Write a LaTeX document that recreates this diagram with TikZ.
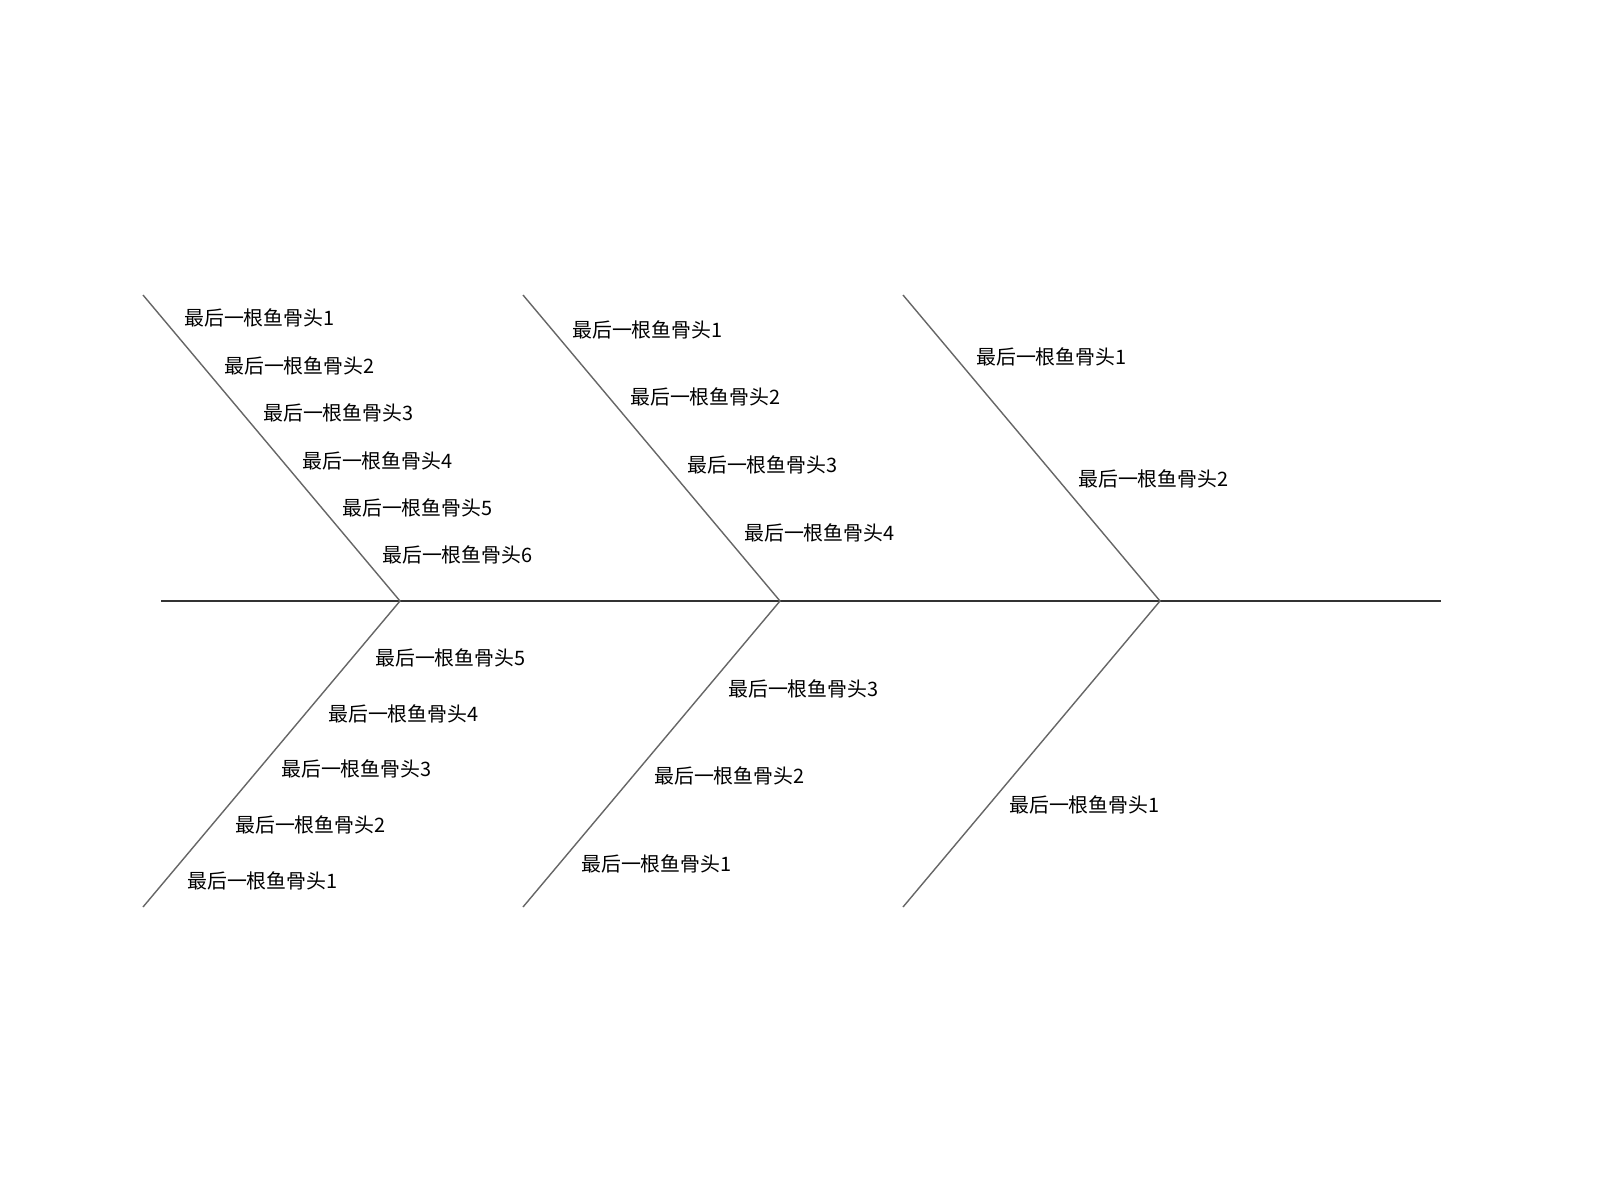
\documentclass[tikz,border=0pt]{standalone}
\usepackage{fontspec}
\setmainfont{Noto Sans CJK SC}
\begin{document}
\begin{tikzpicture}[x=1pt,y=-1pt,
  spine/.style={draw=black!80,line width=2pt},
  bone/.style={draw=black!60,line width=1.4pt},
  lbl/.style={anchor=west,inner sep=0pt,font=\fontsize{19.9}{22}\selectfont,text=black}]
\useasboundingbox (0,0) rectangle (1600,1200);
\fill[white] (0,0) rectangle (1600,1200);
% spine
\coordinate (tail) at (161,601);
\coordinate (head) at (1441,601);
\coordinate (j1) at (400,601);
\coordinate (j2) at (780,601);
\coordinate (j3) at (1160,601);
\coordinate (t1) at (143,295);
\coordinate (t2) at (523,295);
\coordinate (t3) at (903,295);
\coordinate (b1) at (143,907);
\coordinate (b2) at (523,907);
\coordinate (b3) at (903,907);
\draw[spine] (tail) -- (head);
\draw[bone] (t1) -- (j1) -- (b1);
\draw[bone] (t2) -- (j2) -- (b2);
\draw[bone] (t3) -- (j3) -- (b3);
% left top
\node[lbl] (lt1) at (184,318) {最后一根鱼骨头1};
\node[lbl] (lt2) at (224,366) {最后一根鱼骨头2};
\node[lbl] (lt3) at (263,413) {最后一根鱼骨头3};
\node[lbl] (lt4) at (302,461) {最后一根鱼骨头4};
\node[lbl] (lt5) at (342,508) {最后一根鱼骨头5};
\node[lbl] (lt6) at (382,555) {最后一根鱼骨头6};
% left bottom
\node[lbl] (lb5) at (375,658) {最后一根鱼骨头5};
\node[lbl] (lb4) at (328,714) {最后一根鱼骨头4};
\node[lbl] (lb3) at (281,769) {最后一根鱼骨头3};
\node[lbl] (lb2) at (235,825) {最后一根鱼骨头2};
\node[lbl] (lb1) at (187,881) {最后一根鱼骨头1};
% middle top
\node[lbl] (mt1) at (572,330) {最后一根鱼骨头1};
\node[lbl] (mt2) at (630,397) {最后一根鱼骨头2};
\node[lbl] (mt3) at (687,465) {最后一根鱼骨头3};
\node[lbl] (mt4) at (744,533) {最后一根鱼骨头4};
% middle bottom
\node[lbl] (mb3) at (728,689) {最后一根鱼骨头3};
\node[lbl] (mb2) at (654,776) {最后一根鱼骨头2};
\node[lbl] (mb1) at (581,864) {最后一根鱼骨头1};
% right
\node[lbl] (rt1) at (976,357) {最后一根鱼骨头1};
\node[lbl] (rt2) at (1078,479) {最后一根鱼骨头2};
\node[lbl] (rb1) at (1009,805) {最后一根鱼骨头1};
\end{tikzpicture}
\end{document}
